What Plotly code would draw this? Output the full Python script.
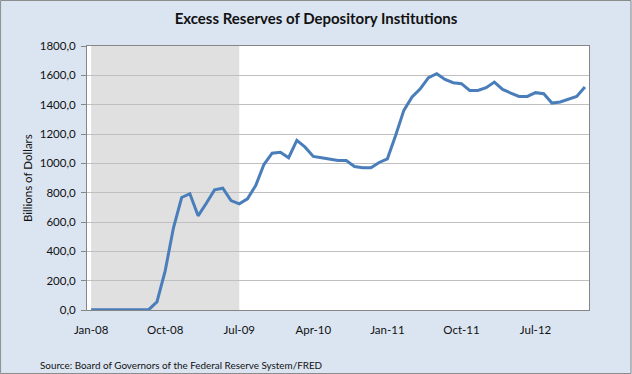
import pandas as pd
import plotly.graph_objects as go

# ---- data ----
months = pd.date_range("2008-01-01", "2013-01-01", freq="MS").strftime("%b-%y").tolist()
excess_reserves = [
    2, 2, 2, 2, 2, 2, 2, 2, 55, 267, 559, 767,                    # 2008
    793, 642, 728, 819, 830, 746, 724, 758, 849, 992, 1069, 1076,  # 2009
    1038, 1156, 1110, 1047, 1038, 1031, 1019, 1019, 978, 970, 970, 1006,  # 2010
    1031, 1190, 1361, 1452, 1509, 1584, 1611, 1572, 1550, 1543, 1497, 1497,  # 2011
    1516, 1554, 1504, 1479, 1456, 1456, 1482, 1475, 1411, 1418, 1436, 1456,  # 2012
    1520,                                                          # 2013
]
tick_labels = ["Jan-08", "Oct-08", "Jul-09", "Apr-10", "Jan-11", "Oct-11", "Jul-12"]
y_ticks = [0, 200, 400, 600, 800, 1000, 1200, 1400, 1600, 1800]
recession_start = "Jan-08"
recession_end = "Jul-09"

title_text = "Excess Reserves of Depository Institutions"
y_title = "Billions of Dollars"
source_text = "Source: Board of Governors of the Federal Reserve System/FRED"

# ---- layout constants ----
W, H = 632, 374
L, R, T, B = 87, 42.5, 46, 64
pw, ph = W - L - R, H - T - B
FONT = "Lato"
TXT = "#111111"

fig = go.Figure()
fig.add_trace(go.Scatter(
    x=months, y=excess_reserves, mode="lines",
    line=dict(color="#4A7EBB", width=3),
    hoverinfo="x+y", showlegend=False,
))

# recession shading (below gridlines)
fig.add_shape(type="rect", xref="x", yref="paper",
              x0=months.index(recession_start), x1=months.index(recession_end),
              y0=0, y1=1, fillcolor="#E0E0E0", line_width=0, layer="below")

# outer chart border
fig.add_shape(type="rect", xref="paper", yref="paper",
              x0=-(L - 0.5) / pw, x1=1 + (R - 0.5) / pw,
              y0=-(B - 0.5) / ph, y1=1 + (T - 0.5) / ph,
              line=dict(color="#8C8C8C", width=1), fillcolor="rgba(0,0,0,0)", layer="above")

fig.update_layout(
    width=W, height=H,
    margin=dict(l=L, r=R, t=T, b=B, pad=0),
    paper_bgcolor="#DBE5F1",
    plot_bgcolor="white",
    separators=", ",
    font=dict(family=FONT, size=11.5, color=TXT),
    title=dict(text="<b>" + title_text + "</b>", x=0.5, xref="container", xanchor="center",
               y=1 - 19 / H, yref="container", yanchor="middle",
               font=dict(family=FONT, size=15, color=TXT)),
    xaxis=dict(
        type="category", range=[-0.5, len(months) - 0.5],
        tickmode="array", tickvals=tick_labels, ticktext=tick_labels,
        showgrid=False, showline=True, linecolor="#868686", linewidth=1, mirror=True,
        ticks="", ticklabelstandoff=9, tickfont=dict(size=11.5, color=TXT),
        zeroline=False,
    ),
    yaxis=dict(
        range=[0, 1800], tickmode="array", tickvals=y_ticks, tickformat=".1f",
        showgrid=True, gridcolor="#BFBFBF", gridwidth=1,
        showline=True, linecolor="#868686", linewidth=1, mirror=True,
        ticks="outside", ticklen=5, tickcolor="#868686", ticklabelstandoff=3,
        tickfont=dict(size=11.5, color=TXT), zeroline=False,
    ),
    annotations=[
        dict(text=y_title, xref="paper", yref="paper", x=0, y=0.5, xanchor="center",
             yanchor="middle", xshift=27 - L, textangle=-90, showarrow=False,
             font=dict(family=FONT, size=11.5, color=TXT)),
        dict(text=source_text, xref="paper", yref="paper", x=0, y=0, xanchor="left",
             yanchor="middle", xshift=38 - L, yshift=-(365 - (H - B)), showarrow=False,
             font=dict(family=FONT, size=9.9, color=TXT)),
    ],
)

fig.write_html("out.html", config={"displayModeBar": False},
               post_script="document.body.style.margin='0';")
